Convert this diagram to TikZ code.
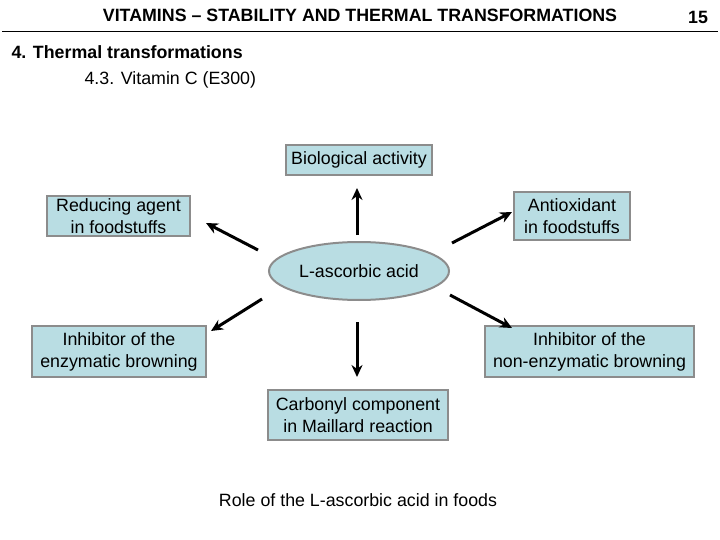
\documentclass[tikz,border=0pt]{standalone}
\usepackage{fontspec}
\setmainfont{Liberation Sans}
\usetikzlibrary{arrows.meta,shapes.geometric}
\definecolor{boxfill}{HTML}{B9DDE3}
\definecolor{boxline}{HTML}{8C8C8C}
\begin{document}
\begin{tikzpicture}[x=1pt,y=-1pt,
  box/.style={draw=boxline,line width=2pt,fill=boxfill,align=center,font=\fontsize{17.8}{22}\selectfont,inner sep=0pt,minimum width=#1},
  arr/.style={line width=3pt,-{Stealth[length=12pt,width=11pt]}},
  txt/.style={font=\fontsize{17.8}{22}\selectfont}]
\useasboundingbox (0,0) rectangle (720,540);
\node[txt,font=\fontsize{17.8}{20}\selectfont\bfseries] (title) at (360,15) {VITAMINS – STABILITY AND THERMAL TRANSFORMATIONS};
\node[txt,font=\fontsize{17.8}{20}\selectfont\bfseries] (pg) at (698,17) {15};
\coordinate (l1) at (2,31); \coordinate (l2) at (718,31);
\draw[line width=0.8pt] (l1) -- (l2);
\node[txt,font=\fontsize{17.8}{20}\selectfont\bfseries,anchor=west] (h1) at (8,52) {4. Thermal transformations};
\node[txt,anchor=west] (h2) at (81,80) {4.3. Vitamin C (E300)};
\node[box=146pt,minimum height=30pt] (bio) at (359,160) {Biological activity};
\node[box=143pt,minimum height=40pt] (red) at (118.5,216) {Reducing agent\\in foodstuffs};
\node[box=116pt,minimum height=48pt] (anti) at (572,216) {Antioxidant\\in foodstuffs};
\node[draw=boxline,line width=2pt,fill=boxfill,ellipse,minimum width=180pt,minimum height=58pt,inner sep=0pt,txt] (asc) at (359,271) {L-ascorbic acid};
\node[box=174pt,minimum height=51pt] (enz) at (119,351.5) {Inhibitor of the\\enzymatic browning};
\node[box=209pt,minimum height=51pt] (non) at (589.5,351.5) {Inhibitor of the\\non-enzymatic browning};
\node[box=180pt,minimum height=50pt] (carb) at (358,415) {Carbonyl component\\in Maillard reaction};
\node[txt] (cap) at (358,500) {Role of the L-ascorbic acid in foods};
\coordinate (a1) at (357,235); \coordinate (b1) at (357,188);
\coordinate (a2) at (258,250); \coordinate (b2) at (206,223);
\coordinate (a3) at (452,243); \coordinate (b3) at (512,212);
\coordinate (a4) at (262,299); \coordinate (b4) at (211,331);
\coordinate (a5) at (450,295); \coordinate (b5) at (512,328);
\coordinate (a6) at (357,322); \coordinate (b6) at (357,377);
\foreach \i in {1,...,6} \draw[arr] (a\i) -- (b\i);
\end{tikzpicture}
\end{document}
